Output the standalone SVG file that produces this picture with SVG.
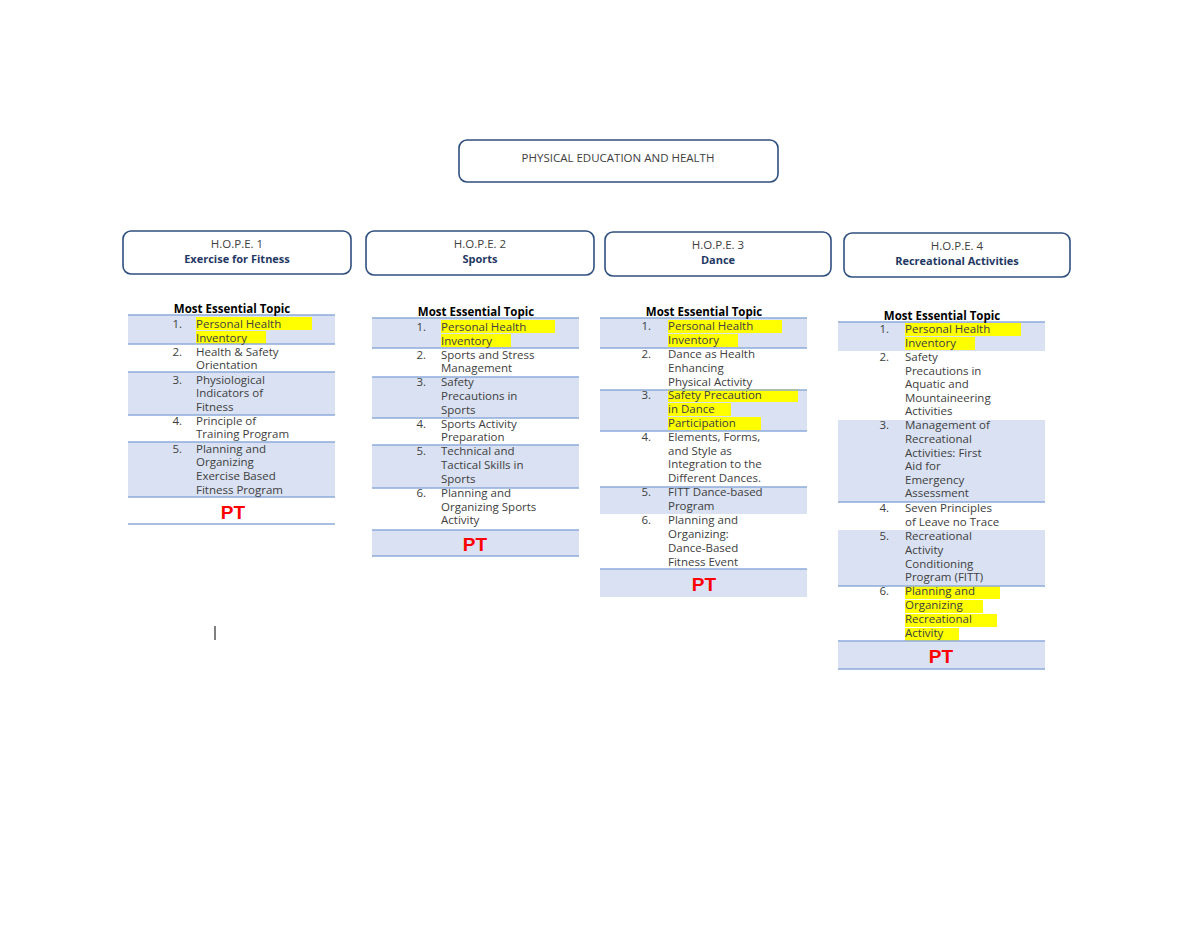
<svg xmlns="http://www.w3.org/2000/svg" width="1200" height="927" viewBox="0 0 1200 927">
<style>
text{font-family:"Open Sans","Liberation Sans",sans-serif;fill:#404040}
.box{fill:#fff;stroke:#2f4f7f;stroke-width:1.6}
.t{font-size:11.5px}
.h{font-size:11.5px;text-anchor:middle}
.hb{font-size:11px;font-weight:bold;text-anchor:middle;fill:#1f3864}
.mh{font-size:11.5px;font-weight:bold;text-anchor:middle;fill:#000}
.n{font-size:11.5px;text-anchor:end}
.sh{fill:#d9e1f2}
.ln{stroke:#8eaadb;stroke-width:1.3}
.hl{fill:#ffff00}
.pt{font-size:19px;font-weight:bold;fill:#ff0000;text-anchor:middle;font-family:"Liberation Sans",sans-serif}
</style>
<rect width="1200" height="927" fill="#fff"/>
<g id="root"><rect class="box" x="459" y="140" width="319" height="42" rx="8"/><text class="h" x="618" y="162">PHYSICAL EDUCATION AND HEALTH</text></g>
<g id="hope1"><rect class="box" x="123" y="231" width="228" height="43" rx="8"/><text class="h" x="237" y="248">H.O.P.E. 1</text><text class="hb" x="237" y="263">Exercise for Fitness</text></g>
<g id="hope2"><rect class="box" x="366" y="231" width="228" height="44" rx="8"/><text class="h" x="480" y="248">H.O.P.E. 2</text><text class="hb" x="480" y="263">Sports</text></g>
<g id="hope3"><rect class="box" x="605" y="232" width="226" height="44" rx="8"/><text class="h" x="718" y="249">H.O.P.E. 3</text><text class="hb" x="718" y="264">Dance</text></g>
<g id="hope4"><rect class="box" x="844" y="233" width="226" height="44" rx="8"/><text class="h" x="957" y="250">H.O.P.E. 4</text><text class="hb" x="957" y="265">Recreational Activities</text></g>

<g id="table1">
<rect class="sh" x="128" y="315" width="207" height="29"/><rect class="sh" x="128" y="372" width="207" height="43"/><rect class="sh" x="128" y="442" width="207" height="55"/>
<rect class="hl" x="196" y="317" width="116" height="13"/><rect class="hl" x="196" y="331" width="70" height="13"/>
<g class="ln"><line x1="128" y1="315" x2="335" y2="315"/><line x1="128" y1="344" x2="335" y2="344"/><line x1="128" y1="372" x2="335" y2="372"/><line x1="128" y1="415" x2="335" y2="415"/><line x1="128" y1="442" x2="335" y2="442"/><line x1="128" y1="497" x2="335" y2="497"/><line x1="128" y1="524" x2="335" y2="524"/></g>
<text class="mh" x="232" y="313">Most Essential Topic</text>
<text class="n" x="182" y="328">1.</text><text class="t" x="196" y="328">Personal Health</text><text class="t" x="196" y="342">Inventory</text>
<text class="n" x="182" y="356">2.</text><text class="t" x="196" y="356">Health &amp; Safety</text><text class="t" x="196" y="369">Orientation</text>
<text class="n" x="182" y="384">3.</text><text class="t" x="196" y="384">Physiological</text><text class="t" x="196" y="397">Indicators of</text><text class="t" x="196" y="411">Fitness</text>
<text class="n" x="182" y="425">4.</text><text class="t" x="196" y="425">Principle of</text><text class="t" x="196" y="438">Training Program</text>
<text class="n" x="182" y="453">5.</text><text class="t" x="196" y="453">Planning and</text><text class="t" x="196" y="466">Organizing</text><text class="t" x="196" y="480">Exercise Based</text><text class="t" x="196" y="494">Fitness Program</text>
<text class="pt" x="233" y="519">PT</text>
</g>

<g id="table2">
<rect class="sh" x="372" y="318" width="207" height="30"/><rect class="sh" x="372" y="377" width="207" height="41"/><rect class="sh" x="372" y="445" width="207" height="43"/><rect class="sh" x="372" y="530" width="207" height="26"/>
<rect class="hl" x="441" y="320" width="114" height="13"/><rect class="hl" x="441" y="334" width="70" height="13"/>
<g class="ln"><line x1="372" y1="318" x2="579" y2="318"/><line x1="372" y1="348" x2="579" y2="348"/><line x1="372" y1="377" x2="579" y2="377"/><line x1="372" y1="418" x2="579" y2="418"/><line x1="372" y1="445" x2="579" y2="445"/><line x1="372" y1="488" x2="579" y2="488"/><line x1="372" y1="530" x2="579" y2="530"/><line x1="372" y1="556" x2="579" y2="556"/></g>
<text class="mh" x="476" y="316">Most Essential Topic</text>
<text class="n" x="426" y="331">1.</text><text class="t" x="441" y="331">Personal Health</text><text class="t" x="441" y="345">Inventory</text>
<text class="n" x="426" y="359">2.</text><text class="t" x="441" y="359">Sports and Stress</text><text class="t" x="441" y="372">Management</text>
<text class="n" x="426" y="386">3.</text><text class="t" x="441" y="386">Safety</text><text class="t" x="441" y="400">Precautions in</text><text class="t" x="441" y="414">Sports</text>
<text class="n" x="426" y="428">4.</text><text class="t" x="441" y="428">Sports Activity</text><text class="t" x="441" y="441">Preparation</text>
<text class="n" x="426" y="455">5.</text><text class="t" x="441" y="455">Technical and</text><text class="t" x="441" y="469">Tactical Skills in</text><text class="t" x="441" y="483">Sports</text>
<text class="n" x="426" y="497">6.</text><text class="t" x="441" y="497">Planning and</text><text class="t" x="441" y="511">Organizing Sports</text><text class="t" x="441" y="524">Activity</text>
<text class="pt" x="475" y="551">PT</text>
</g>

<g id="table3">
<rect class="sh" x="600" y="318" width="207" height="30"/><rect class="sh" x="600" y="390" width="207" height="41"/><rect class="sh" x="600" y="487" width="207" height="27"/><rect class="sh" x="600" y="569" width="207" height="28"/>
<rect class="hl" x="668" y="320" width="114" height="13"/><rect class="hl" x="668" y="334" width="70" height="13"/>
<rect class="hl" x="668" y="389" width="130" height="13"/><rect class="hl" x="668" y="403" width="63" height="13"/><rect class="hl" x="668" y="417" width="93" height="13"/>
<g class="ln"><line x1="600" y1="318" x2="807" y2="318"/><line x1="600" y1="348" x2="807" y2="348"/><line x1="600" y1="390" x2="807" y2="390"/><line x1="600" y1="431" x2="807" y2="431"/><line x1="600" y1="487" x2="807" y2="487"/><line x1="600" y1="569" x2="807" y2="569"/></g>
<text class="mh" x="704" y="316">Most Essential Topic</text>
<text class="n" x="651" y="330">1.</text><text class="t" x="668" y="330">Personal Health</text><text class="t" x="668" y="344">Inventory</text>
<text class="n" x="651" y="358">2.</text><text class="t" x="668" y="358">Dance as Health</text><text class="t" x="668" y="372">Enhancing</text><text class="t" x="668" y="386">Physical Activity</text>
<text class="n" x="651" y="399">3.</text><text class="t" x="668" y="399">Safety Precaution</text><text class="t" x="668" y="413">in Dance</text><text class="t" x="668" y="427">Participation</text>
<text class="n" x="651" y="441">4.</text><text class="t" x="668" y="441">Elements, Forms,</text><text class="t" x="668" y="455">and Style as</text><text class="t" x="668" y="468">Integration to the</text><text class="t" x="668" y="482">Different Dances.</text>
<text class="n" x="651" y="496">5.</text><text class="t" x="668" y="496">FITT Dance-based</text><text class="t" x="668" y="510">Program</text>
<text class="n" x="651" y="524">6.</text><text class="t" x="668" y="524">Planning and</text><text class="t" x="668" y="538">Organizing:</text><text class="t" x="668" y="552">Dance-Based</text><text class="t" x="668" y="566">Fitness Event</text>
<text class="pt" x="704" y="591">PT</text>
</g>

<g id="table4">
<rect class="sh" x="838" y="322" width="207" height="29"/><rect class="sh" x="838" y="420" width="207" height="82"/><rect class="sh" x="838" y="530" width="207" height="56"/><rect class="sh" x="838" y="641" width="207" height="28"/>
<rect class="hl" x="905" y="323" width="116" height="13"/><rect class="hl" x="905" y="337" width="70" height="13"/>
<rect class="hl" x="905" y="586" width="95" height="13"/><rect class="hl" x="905" y="600" width="78" height="13"/><rect class="hl" x="905" y="614" width="92" height="13"/><rect class="hl" x="905" y="628" width="54" height="13"/>
<g class="ln"><line x1="838" y1="322" x2="1045" y2="322"/><line x1="838" y1="502" x2="1045" y2="502"/><line x1="838" y1="586" x2="1045" y2="586"/><line x1="838" y1="641" x2="1045" y2="641"/><line x1="838" y1="669" x2="1045" y2="669"/></g>
<text class="mh" x="942" y="320">Most Essential Topic</text>
<text class="n" x="889" y="333">1.</text><text class="t" x="905" y="333">Personal Health</text><text class="t" x="905" y="347">Inventory</text>
<text class="n" x="889" y="361">2.</text><text class="t" x="905" y="361">Safety</text><text class="t" x="905" y="375">Precautions in</text><text class="t" x="905" y="388">Aquatic and</text><text class="t" x="905" y="402">Mountaineering</text><text class="t" x="905" y="415">Activities</text>
<text class="n" x="889" y="429">3.</text><text class="t" x="905" y="429">Management of</text><text class="t" x="905" y="443">Recreational</text><text class="t" x="905" y="457">Activities: First</text><text class="t" x="905" y="470">Aid for</text><text class="t" x="905" y="484">Emergency</text><text class="t" x="905" y="497">Assessment</text>
<text class="n" x="889" y="512">4.</text><text class="t" x="905" y="512">Seven Principles</text><text class="t" x="905" y="526">of Leave no Trace</text>
<text class="n" x="889" y="540">5.</text><text class="t" x="905" y="540">Recreational</text><text class="t" x="905" y="554">Activity</text><text class="t" x="905" y="568">Conditioning</text><text class="t" x="905" y="581">Program (FITT)</text>
<text class="n" x="889" y="595">6.</text><text class="t" x="905" y="595">Planning and</text><text class="t" x="905" y="609">Organizing</text><text class="t" x="905" y="623">Recreational</text><text class="t" x="905" y="637">Activity</text>
<text class="pt" x="941" y="663">PT</text>
</g>
<line x1="215" y1="626" x2="215" y2="640" stroke="#000" stroke-width="1"/>
</svg>
